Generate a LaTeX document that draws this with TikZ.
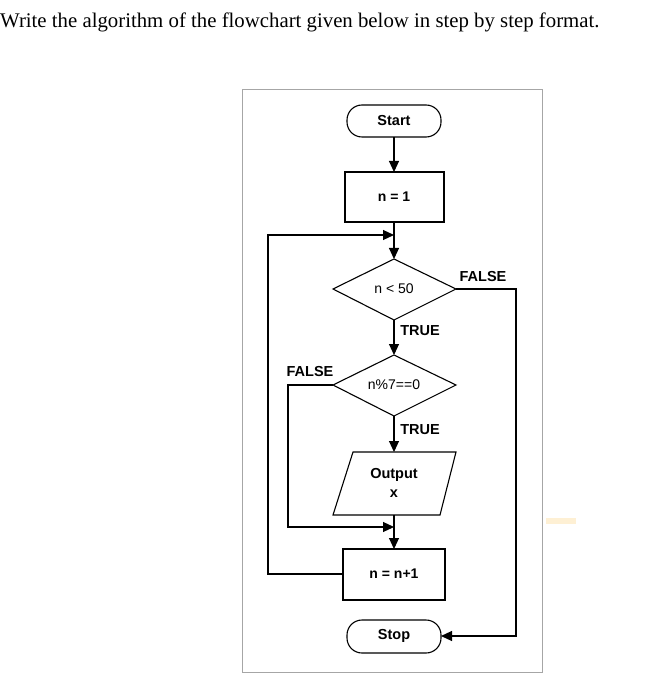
\documentclass[tikz,border=0pt]{standalone}
\usepackage{fontspec}
\setmainfont{Liberation Serif}
\newfontfamily\arialf{Liberation Sans}
\usetikzlibrary{arrows.meta,shapes.geometric}
\begin{document}
\begin{tikzpicture}[x=1pt,y=-1pt,
  ln/.style={line width=1.1pt},
  arr/.style={ln,-{Triangle[length=11pt,width=10pt]}},
  lbl/.style={font=\arialf\bfseries\fontsize{14.5}{16}\selectfont,inner sep=0pt},
  txt/.style={font=\arialf\fontsize{14}{16}\selectfont,inner sep=0pt}]
\useasboundingbox (0,0) rectangle (660,700);
\node[anchor=west,inner sep=0pt,font=\fontsize{20.8}{24}\selectfont] (head) at (0,22) {Write the algorithm of the flowchart given below in step by step format.};
\fill[yellow!30!orange!15] (546,518) rectangle (576,524);
\draw[gray!70,line width=1pt] (242,90) rectangle (542,672);
% shapes
\draw[ln,rounded corners=15pt] (347,105) rectangle (441,137);
\node[lbl] (start) at (394,121) {Start};
\coordinate (startB) at (394,137);
\draw[ln] (345,172) rectangle (444,222);
\node[txt] (n1) at (394,197) {\bfseries n = 1};
\coordinate (n1T) at (394,172); \coordinate (n1B) at (394,222);
\coordinate (m1) at (394,235);
\draw[ln] (394,259) -- (456,289) -- (394,320) -- (333,289) -- cycle;
\node[txt] (d1) at (394,289) {n < 50};
\coordinate (d1T) at (394,259); \coordinate (d1B) at (394,320); \coordinate (d1R) at (456,289);
\draw[ln] (394,355) -- (456,385) -- (394,416) -- (333,385) -- cycle;
\node[txt] (d2) at (394,385) {n\%7==0};
\coordinate (d2T) at (394,355); \coordinate (d2B) at (394,416); \coordinate (d2L) at (333,385);
\draw[ln] (353,452) -- (456,452) -- (440,515) -- (333,515) -- cycle;
\node[lbl,align=center] (out) at (394,483) {Output\\[3pt]x};
\coordinate (outT) at (394,452); \coordinate (outB) at (394,515);
\coordinate (m2) at (394,527);
\draw[ln] (343,549) rectangle (445,600);
\node[txt] (inc) at (394,574) {\bfseries n = n+1};
\coordinate (incT) at (394,549); \coordinate (incL) at (343,574);
\draw[ln,rounded corners=15pt] (347,620) rectangle (441,653);
\node[lbl] (stop) at (394,636) {Stop};
\coordinate (stopR) at (441,636);
% connectors
\draw[arr] (startB) -- (n1T);
\draw[ln] (n1B) -- (m1);
\draw[arr] (m1) -- (d1T);
\draw[arr] (incL) -- (268,574) -- (268,235) -- (m1);
\draw[arr] (d1B) -- (d2T);
\draw[arr] (d2B) -- (outT);
\draw[ln] (outB) -- (m2);
\draw[arr] (m2) -- (incT);
\draw[arr] (d2L) -- (288,385) -- (288,527) -- (m2);
\draw[arr] (d1R) -- (516,289) -- (516,636) -- (stopR);
\node[lbl] (f1) at (483,277) {FALSE};
\node[lbl] (t1) at (420,331) {TRUE};
\node[lbl] (f2) at (310,372) {FALSE};
\node[lbl] (t2) at (420,430) {TRUE};
\end{tikzpicture}
\end{document}
